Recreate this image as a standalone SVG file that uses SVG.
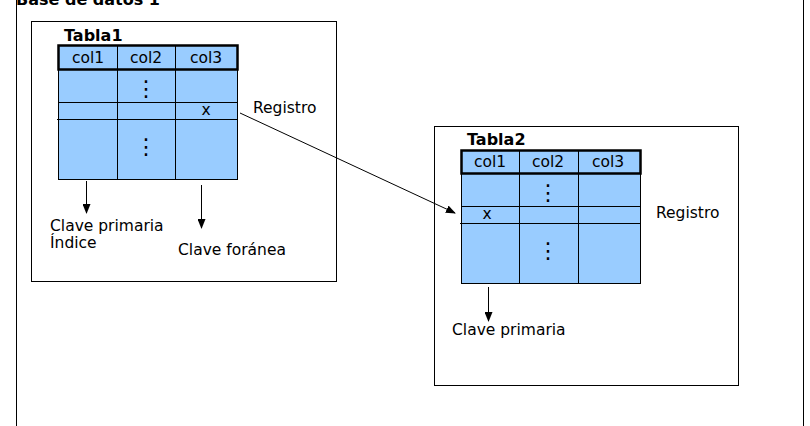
<svg xmlns="http://www.w3.org/2000/svg" width="810" height="426" viewBox="0 0 810 426">
<style>
text{font-family:"DejaVu Sans","Liberation Sans",sans-serif;font-size:15.5px;fill:#000}
.b{font-weight:bold;font-size:16px}
.d{font-size:22px}
.c{fill:#99ccff;stroke:#000;stroke-width:1}
.h{fill:#99ccff;stroke:#000;stroke-width:2.5}
.l{stroke:#000;stroke-width:1;fill:none}
.box{fill:#fff;stroke:#000;stroke-width:1}
</style>
<defs><marker id="a" markerWidth="10" markerHeight="8" refX="9" refY="4" orient="auto" markerUnits="userSpaceOnUse"><path d="M0,0L10,4L0,8z" fill="#000"/></marker></defs>
<rect width="810" height="426" fill="#fff"/>
<g id="db"><line class="l" x1="16.5" y1="0" x2="16.5" y2="426"/><line class="l" x1="803.5" y1="0" x2="803.5" y2="426"/>
<text class="b" x="16" y="5">Base de datos 1</text></g>
<g id="tabla1">
<rect class="box" x="31.5" y="21.5" width="305" height="260"/>
<text class="b" x="64" y="41">Tabla1</text>
<rect class="c" x="58.5" y="69.5" width="179" height="110"/>
<path class="l" d="M58,102.5H237M57,119.5H237M117.5,69V179M175.5,69V179"/>
<rect class="h" x="58.5" y="45.5" width="179" height="24"/>
<path class="l" d="M117.5,46V69M175.5,46V69"/>
<text x="88" y="63" text-anchor="middle">col1</text><text x="146" y="63" text-anchor="middle">col2</text><text x="206" y="63" text-anchor="middle">col3</text>
<text class="d" x="146" y="96" text-anchor="middle">⋮</text><text class="d" x="146" y="154" text-anchor="middle">⋮</text>
<text x="206" y="115" text-anchor="middle">x</text>
<text x="50" y="231">Clave primaria</text><text x="50" y="248">Índice</text>
<text x="178" y="255">Clave foránea</text>
<text x="253" y="113">Registro</text>
</g>
<g id="tabla2">
<rect class="box" x="434.5" y="126.5" width="304" height="259"/>
<text class="b" x="467" y="145">Tabla2</text>
<rect class="c" x="461.5" y="173.5" width="179" height="110"/>
<path class="l" d="M461,206.5H640M460,223.5H640M519.5,173V284M578.5,173V284"/>
<rect class="h" x="461.5" y="150.5" width="179" height="23"/>
<path class="l" d="M519.5,151V173M578.5,151V173"/>
<text x="490" y="167" text-anchor="middle">col1</text><text x="548" y="167" text-anchor="middle">col2</text><text x="608" y="167" text-anchor="middle">col3</text>
<text class="d" x="548" y="200" text-anchor="middle">⋮</text><text class="d" x="548" y="258" text-anchor="middle">⋮</text>
<text x="487" y="219" text-anchor="middle">x</text>
<text x="452" y="335">Clave primaria</text>
<text x="656" y="218">Registro</text>
</g>
<g id="connectors">
<line class="l" x1="86.5" y1="181" x2="86.5" y2="213" marker-end="url(#a)"/>
<line class="l" x1="201.5" y1="185" x2="201.5" y2="228" marker-end="url(#a)"/>
<line class="l" x1="488.5" y1="287" x2="488.5" y2="321" marker-end="url(#a)"/>
<line class="l" x1="240" y1="113" x2="455" y2="213" marker-end="url(#a)"/>
</g>
</svg>
